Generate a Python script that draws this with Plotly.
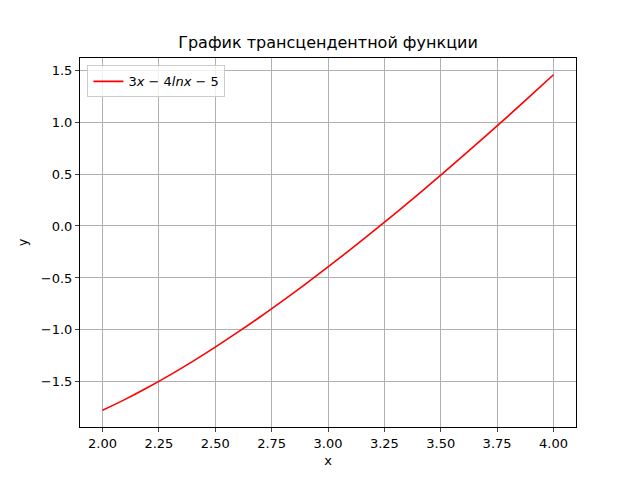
import plotly.graph_objects as go

# values
x_vals = [2.0, 2.1, 2.2, 2.3, 2.4, 2.5, 2.6, 2.7, 2.8, 2.9, 3.0,
          3.1, 3.2, 3.3, 3.4, 3.5, 3.6, 3.7, 3.8, 3.9, 4.0]
y_vals = [-1.773, -1.668, -1.554, -1.432, -1.302, -1.165, -1.022, -0.873, -0.718, -0.559, -0.394,
          -0.226, -0.053, 0.124, 0.305, 0.489, 0.676, 0.867, 1.060, 1.256, 1.455]
x_ticks = [2.0, 2.25, 2.5, 2.75, 3.0, 3.25, 3.5, 3.75, 4.0]
y_ticks = [-1.5, -1.0, -0.5, 0.0, 0.5, 1.0, 1.5]

font = "DejaVu Sans"

fig = go.Figure(
    data=go.Scatter(x=x_vals, y=y_vals, mode='lines', line=dict(color='red', width=1.6, shape='spline'),
                    name='3<i>x</i> − 4<i>lnx</i> − 5'),
    layout=go.Layout(
        width=640, height=480,
        margin=dict(l=72, r=72, t=50, b=61),
        paper_bgcolor='white', plot_bgcolor='white',
        font=dict(family=font, size=13, color='black'),
        title=dict(text='График трансцендентной функции', x=0.5, xanchor='center',
                   y=1 - 34 / 480, yanchor='middle', font=dict(size=16)),
        showlegend=True,
        legend=dict(x=0.015, y=0.98, xanchor='left', yanchor='top',
                    bordercolor='#cccccc', borderwidth=1, bgcolor='rgba(255,255,255,0.8)',
                    font=dict(size=13)),
        xaxis=dict(title=dict(text='x', standoff=6, font=dict(size=13)), range=[1.9, 4.1], tickvals=x_ticks,
                   ticktext=['%.2f' % t for t in x_ticks],
                   showgrid=True, gridcolor='#b0b0b0', gridwidth=1,
                   showline=True, linecolor='black', mirror=True, linewidth=1,
                   ticks='outside', ticklen=4, zeroline=False),
        yaxis=dict(title=dict(text='y', standoff=10, font=dict(size=13)), range=[-1.934, 1.616], tickvals=y_ticks,
                   ticktext=['%.1f' % t if t >= 0 else '−%.1f' % -t for t in y_ticks],
                   showgrid=True, gridcolor='#b0b0b0', gridwidth=1,
                   showline=True, linecolor='black', mirror=True, linewidth=1,
                   ticks='outside', ticklen=4, zeroline=False),
    )
)

fig.write_html("out.html")
